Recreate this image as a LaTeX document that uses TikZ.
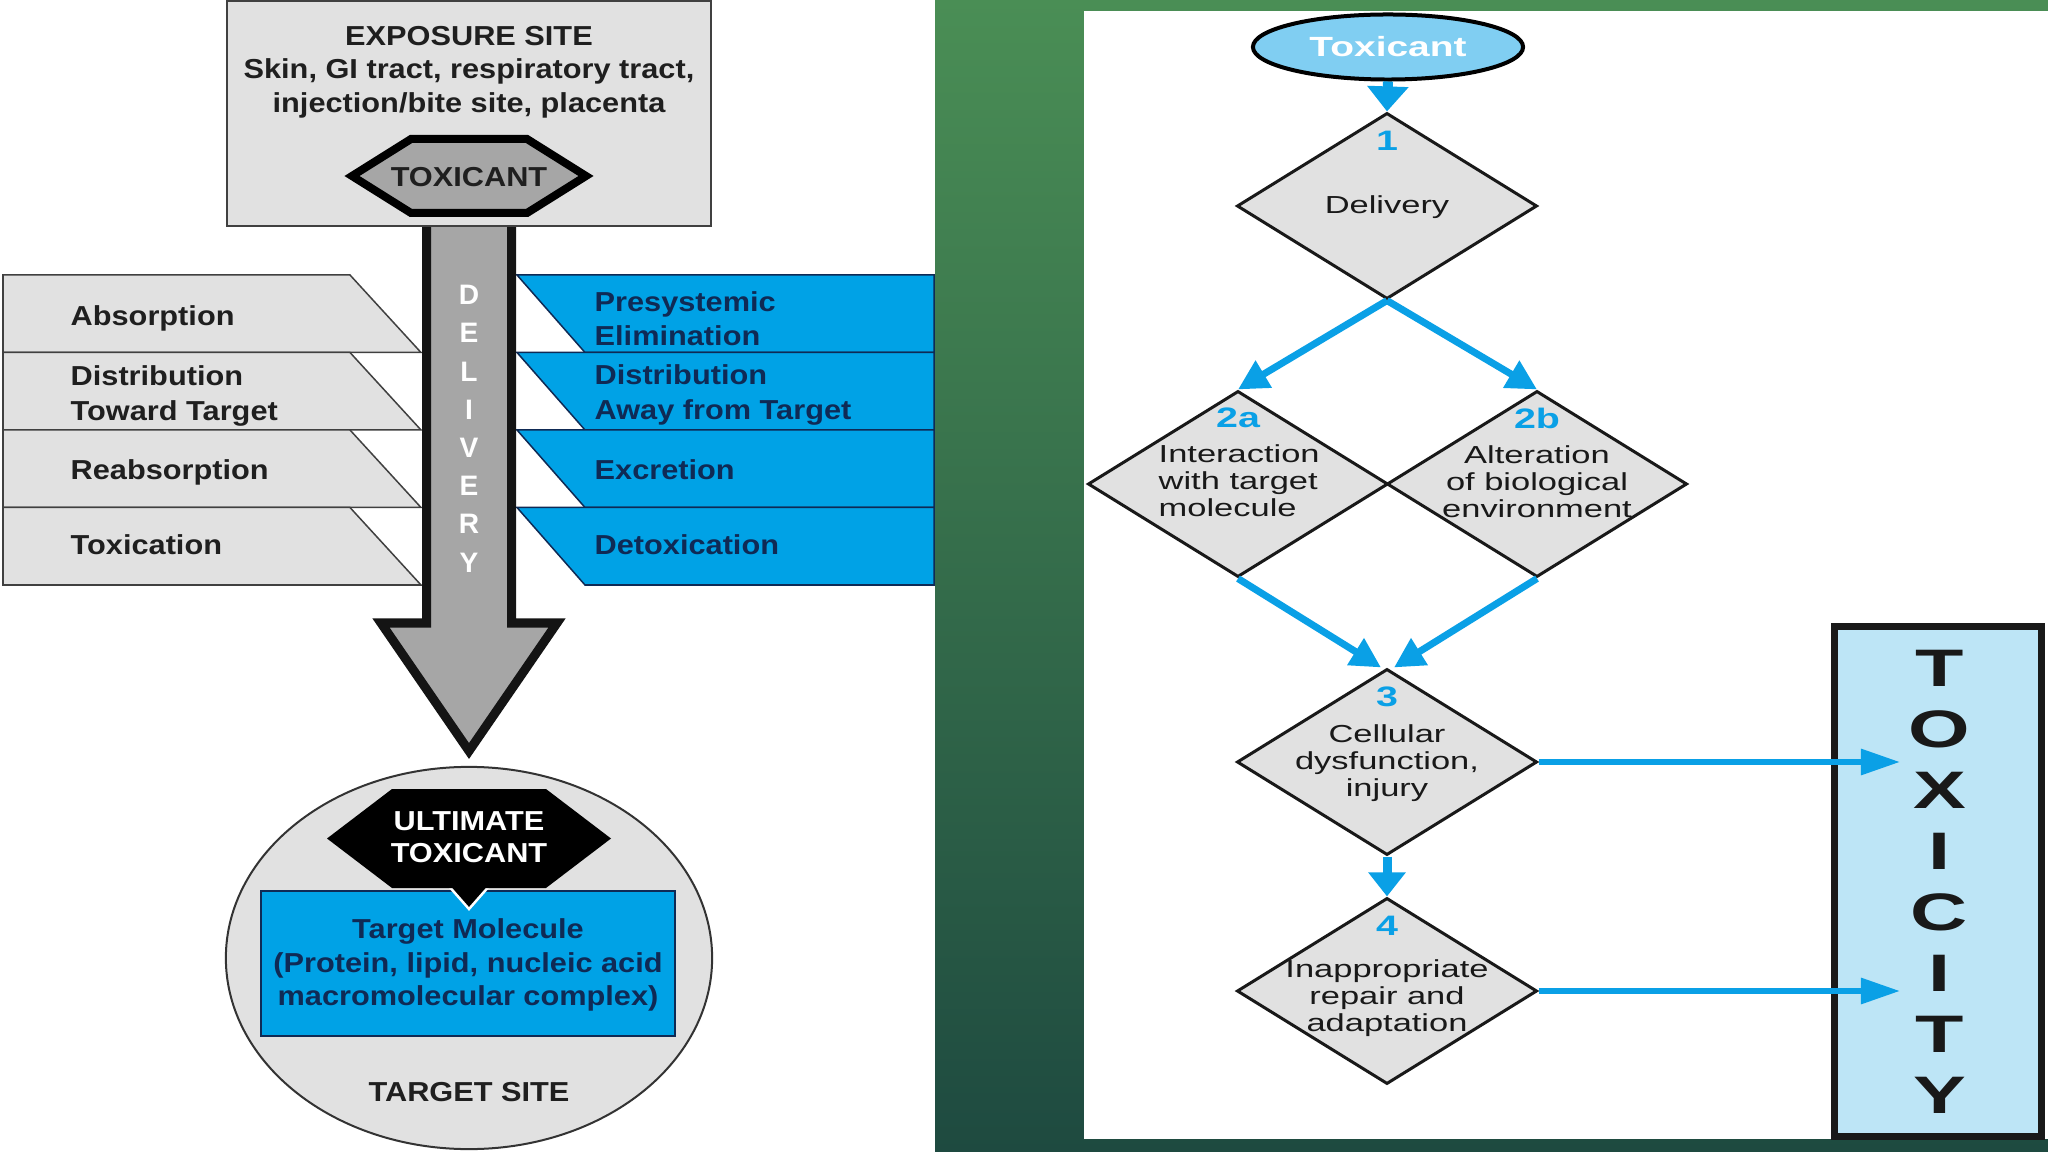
\documentclass[tikz,border=0pt]{standalone}
\usepackage{fontspec}
\setmainfont{Liberation Sans}
\newfontfamily\lpfam[FakeStretch=1.12]{Liberation Sans}
\newfontfamily\rpfam[FakeStretch=1.4]{Liberation Sans}
\newfontfamily\tpfam[FakeStretch=1.5]{Liberation Sans}
\usetikzlibrary{shapes.geometric,arrows.meta,calc}
\definecolor{lgray}{HTML}{E1E1E1}
\definecolor{mgray}{HTML}{A6A6A6}
\definecolor{bblue}{HTML}{00A2E6}
\definecolor{navy}{HTML}{0F2A55}
\definecolor{ablue}{HTML}{0AA0E6}
\definecolor{ellblue}{HTML}{80CEF2}
\definecolor{txblue}{HTML}{BDE5F6}
\definecolor{gtop}{HTML}{4A8E55}
\definecolor{gbot}{HTML}{1E4A40}
\tikzset{
  ltxt/.style={font=\lpfam\bfseries\fontsize{7.8}{9.7}\selectfont, text=black!88, inner sep=0pt},
  rtxt/.style={font=\rpfam\fontsize{7}{7.7}\selectfont, text=black!90, inner sep=0pt},
  numtxt/.style={font=\rpfam\bfseries\fontsize{8}{9}\selectfont, text=ablue, inner sep=0pt},
  dia/.style={diamond, draw=black!90, line width=0.03cm, fill=lgray, minimum width=3cm, minimum height=1.86cm, inner sep=0pt},
  flow/.style={draw=ablue, line width=0.07cm, -{Triangle[length=0.3cm,width=0.3cm]}},
  graybar/.style={fill=lgray, draw=black!75, line width=0.015cm},
  bluebar/.style={fill=bblue, draw=navy, line width=0.015cm},
  delletter/.style={font=\bfseries\fontsize{8}{9}\selectfont, text=white, inner sep=0pt},
  toxletter/.style={font=\tpfam\bfseries\fontsize{15}{18}\selectfont, text=black!90, inner sep=0pt}
}
\begin{document}
\begin{tikzpicture}[x=0.01cm,y=-0.01cm]
\path[use as bounding box] (0,0) rectangle (2048,1152);
\fill[white] (0,0) rectangle (2048,1152);
\shade[top color=gtop, bottom color=gbot] (935,0) rectangle (2048,1152);
\fill[white] (1084,11) rectangle (2048,1139);

% ---------------- left panel ----------------
\foreach \t/\b in {275/352.5, 352.5/430, 430/507.5, 507.5/585} {
  \draw[graybar] (3,\t) -- (350,\t) -- (421,\b) -- (3,\b) -- cycle;
  \draw[bluebar] (517,\t) -- (934,\t) -- (934,\b) -- (585,\b) -- cycle;
}
\draw[fill=mgray, draw=black!92, line width=0.09cm, line join=miter]
  (426.5,215) -- (426.5,623) -- (381,623) -- (469,751) -- (557,623) -- (511.5,623) -- (511.5,215) -- cycle;
\node[draw=black!75, fill=lgray, line width=0.02cm, minimum width=4.84cm, minimum height=2.25cm, inner sep=0pt] (exp) at (469,113.5) {};
\node[ltxt] (exp1) at (469,36) {EXPOSURE SITE};
\node[ltxt] (exp2) at (469,71) {Skin, GI tract, respiratory tract,};
\node[ltxt] (exp3) at (469,105) {injection/bite site, placenta};
\draw[fill=mgray, draw=black, line width=0.08cm, line join=miter]
  (352,176) -- (411,139) -- (527,139) -- (586,176) -- (527,213) -- (411,213) -- cycle;
\node[ltxt] (tox0) at (469,177) {TOXICANT};

\foreach \ch [count=\i] in {D,E,L,I,V,E,R,Y}
  \node[delletter] (dl\i) at (469,{295+38.2*(\i-1)}) {\ch};

\node[ltxt, anchor=west] (abs) at (70,318) {Absorption};
\node[ltxt, anchor=west, align=left] (dtt) at (70,396) {Distribution\\Toward Target};
\node[ltxt, anchor=west] (reabs) at (70,472) {Reabsorption};
\node[ltxt, anchor=west] (toxic) at (70,545) {Toxication};
\node[ltxt, anchor=west, align=left, text=navy] (pre) at (594,319) {Presystemic\\Elimination};
\node[ltxt, anchor=west, align=left, text=navy] (dat) at (594,395) {Distribution\\Away from Target};
\node[ltxt, anchor=west, text=navy] (excr) at (594,470) {Excretion};
\node[ltxt, anchor=west, text=navy] (detox) at (594,545) {Detoxication};

\node[ellipse, draw=black!80, fill=lgray, line width=0.02cm, minimum width=4.86cm, minimum height=3.82cm, inner sep=0pt] (site) at (469,958) {};
\node[draw=navy, fill=bblue, line width=0.02cm, minimum width=4.14cm, minimum height=1.45cm, inner sep=0pt] (mol) at (468,963.5) {};
\filldraw[fill=black, draw=white, line width=0.025cm, line join=miter] (447,884) -- (469,909) -- (491,884);
\fill[black] (327,838.5) -- (392,789) -- (546,789) -- (611,838.5) -- (546,888) -- (392,888) -- cycle;
\node[ltxt, text=white, align=center, font=\lpfam\bfseries\fontsize{7.8}{9.1}\selectfont] (ult) at (469,837) {ULTIMATE\\TOXICANT};
\node[ltxt, text=navy, align=center, font=\lpfam\bfseries\fontsize{7.8}{9.5}\selectfont] (molt) at (468,965) {Target Molecule\\(Protein, lipid, nucleic acid\\macromolecular complex)};
\node[ltxt] (sitet) at (469,1092) {TARGET SITE};

% ---------------- right panel ----------------
\node[draw=black!90, line width=0.07cm, fill=txblue, minimum width=2.07cm, minimum height=5.10cm, inner sep=0pt] (toxbox) at (1938,881.5) {};
\foreach \ch [count=\i] in {T,O,X,I,C,I,T,Y}
  \node[toxletter] (tl\i) at (1939.5,{668+61.1*(\i-1)}) {\ch};

\node[ellipse, draw=black, line width=0.04cm, fill=ellblue, minimum width=2.7cm, minimum height=0.65cm, inner sep=0pt, text=white, font=\rpfam\bfseries\fontsize{7.9}{9}\selectfont] (tox) at (1388,47) {Toxicant};

\node[dia] (d1) at (1387,206) {};
\node[dia] (d2a) at (1238,484) {};
\node[dia] (d2b) at (1537,484) {};
\node[dia] (d3) at (1387,762) {};
\node[dia] (d4) at (1387,991) {};

\node[numtxt] (n1) at (1387,141) {1};
\node[rtxt] (t1) at (1387,207) {Delivery};
\node[numtxt] (n2a) at (1238,418) {2a};
\node[rtxt, align=left, anchor=west] (t2a) at (1158,481) {Interaction\\with target\\molecule};
\node[numtxt] (n2b) at (1537,418) {2b};
\node[rtxt, align=center] (t2b) at (1537,482) {Alteration\\of biological\\environment};
\node[numtxt] (n3) at (1387,697) {3};
\node[rtxt, align=center] (t3) at (1387,763) {Cellular\\dysfunction,\\injury};
\node[numtxt] (n4) at (1387,926) {4};
\node[rtxt, align=center] (t4) at (1387,998) {Inappropriate\\repair and\\adaptation};

\coordinate (e3) at (1900,762);
\coordinate (e4) at (1900,991);

\draw[flow, line width=0.1cm, -{Triangle[length=0.25cm,width=0.4cm]}] (tox.south) -- (d1.north);
\draw[flow] (d1.south) -- (d2a.north);
\draw[flow] (d1.south) -- (d2b.north);
\draw[flow] (d2a.south) -- ($(d3.north)+(-6,0)$);
\draw[flow] (d2b.south) -- ($(d3.north)+(7,0)$);
\draw[flow, line width=0.09cm, -{Triangle[length=0.24cm,width=0.36cm]}] (d3.south) -- (d4.north);
\draw[flow, line width=0.06cm, -{Triangle[length=0.39cm,width=0.25cm]}] (d3.east) -- (e3);
\draw[flow, line width=0.06cm, -{Triangle[length=0.39cm,width=0.25cm]}] (d4.east) -- (e4);
\end{tikzpicture}
\end{document}
